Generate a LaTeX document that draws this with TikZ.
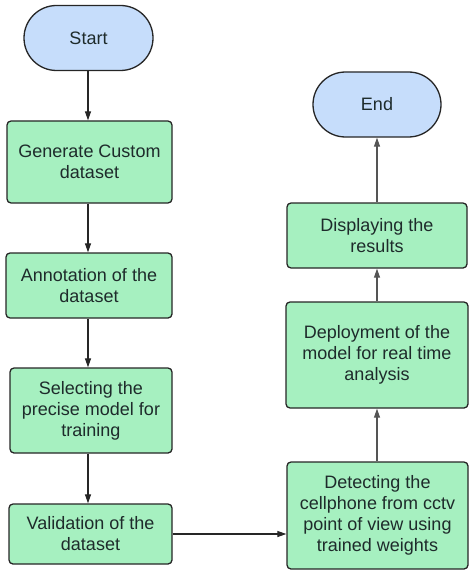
\documentclass[tikz,border=0pt]{standalone}
\usepackage{fontspec}
\setmainfont{Liberation Sans}
\usetikzlibrary{arrows.meta,shapes.misc}
\definecolor{boxgreen}{HTML}{A6F0C0}
\definecolor{pillblue}{HTML}{C6DDFB}
\definecolor{edge}{HTML}{262626}
\definecolor{txt}{HTML}{1E2B2B}
\definecolor{grayline}{HTML}{555555}
\tikzset{
  base/.style={draw=edge, line width=1.3pt, text=txt, align=center, inner sep=2pt,
    font=\fontsize{18pt}{21pt}\selectfont},
  stepbox/.style={base, fill=boxgreen, rounded corners=4pt},
  pill/.style={base, fill=pillblue, rounded rectangle},
  arr/.style={line width=1.1pt, draw=edge, -{Triangle[length=9pt,width=6pt]}},
  garr/.style={line width=1.1pt, draw=grayline, -{Triangle[length=9pt,width=6pt]}}
}
\begin{document}
\begin{tikzpicture}[x=1pt,y=-1pt]
\useasboundingbox (0,0) rectangle (474,575);
\node[pill, minimum width=133pt, minimum height=65pt] (start) at (88.5,38) {Start};
\node[stepbox, minimum width=165pt, minimum height=82pt] (gen) at (89.5,162) {Generate Custom\\dataset};
\node[stepbox, minimum width=166pt, minimum height=65pt] (ann) at (89,285.5) {Annotation of the\\dataset};
\node[stepbox, minimum width=162pt, minimum height=85pt] (sel) at (91,410.5) {Selecting the\\precise model for\\training};
\node[stepbox, minimum width=163pt, minimum height=60pt] (val) at (90.5,534) {Validation of the\\dataset};
\node[stepbox, minimum width=181pt, minimum height=107pt] (det) at (377.5,515.5) {Detecting the\\cellphone from cctv\\point of view using\\trained weights};
\node[stepbox, minimum width=182pt, minimum height=106pt] (dep) at (377,355) {Deployment of the\\model for real time\\analysis};
\node[stepbox, minimum width=180pt, minimum height=65pt] (dis) at (377,235.5) {Displaying the\\results};
\node[pill, minimum width=132pt, minimum height=65pt] (end) at (377,104.5) {End};

\coordinate (c1) at (88,0);
\draw[arr] (c1 |- start.south) -- (c1 |- gen.north);
\draw[arr] (c1 |- gen.south) -- (c1 |- ann.north);
\draw[arr] (c1 |- ann.south) -- (c1 |- sel.north);
\draw[arr] (c1 |- sel.south) -- (c1 |- val.north);
\draw[arr] (val.east) -- (val.east -| det.west);
\coordinate (c2) at (377,0);
\draw[garr] (c2 |- det.north) -- (c2 |- dep.south);
\draw[garr] (c2 |- dep.north) -- (c2 |- dis.south);
\draw[garr] (c2 |- dis.north) -- (c2 |- end.south);
\end{tikzpicture}
\end{document}
